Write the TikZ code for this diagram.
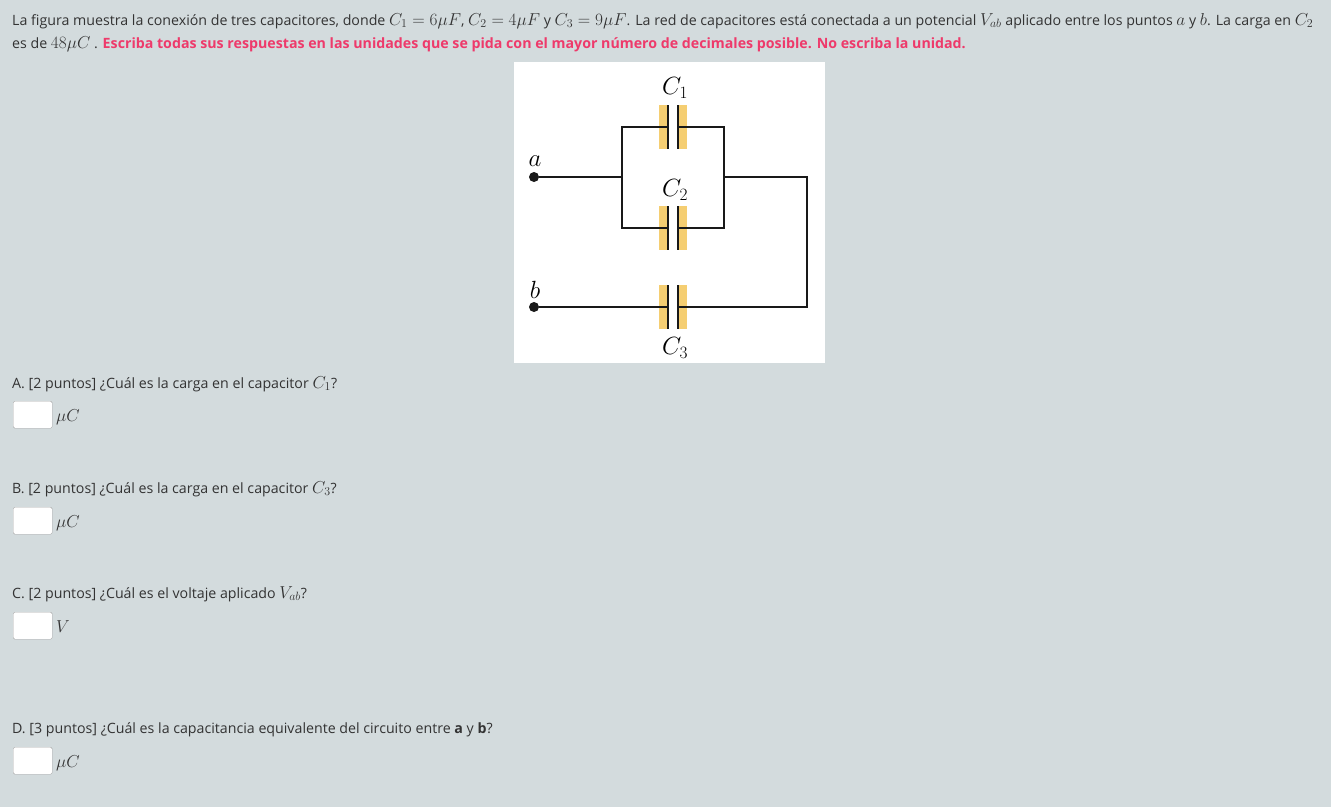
\documentclass[tikz,border=0pt]{standalone}
\usepackage{fontspec}
\setmainfont{Open Sans}
\definecolor{bg}{HTML}{D3DBDD}
\definecolor{redt}{HTML}{EE3A6B}
\definecolor{capy}{HTML}{F5CE72}
\definecolor{txt}{HTML}{333333}
\newcommand{\mth}[1]{{\fontsize{17}{18}\selectfont$#1$}}
\begin{document}
\begin{tikzpicture}[x=1pt,y=-1pt,
  body/.style={anchor=base west,inner sep=0pt,font=\fontsize{14.2}{16}\selectfont,text=txt},
  unit/.style={anchor=base west,inner sep=0pt,font=\fontsize{17}{18}\selectfont,text=txt},
  ansbox/.style={draw=gray!70,fill=white,rounded corners=1.5pt,minimum width=39pt,minimum height=27pt,inner sep=0pt,anchor=north west},
  wire/.style={line width=2.5pt,black!90},
  plate/.style={line width=2.8pt,black!90},
  band/.style={fill=capy,draw=none},
  dot/.style={circle,fill=black!90,inner sep=0pt,minimum size=10pt},
  clab/.style={font=\fontsize{23}{24}\selectfont,inner sep=0pt}]
\fill[bg] (0,0) rectangle (1331,807);
\useasboundingbox (0,0) rectangle (1331,807);
\node[body] (t1) at (12,25) {La figura muestra la conexión de tres capacitores, donde \mth{C_1=6\mu F}, \mth{C_2=4\mu F} y \mth{C_3=9\mu F}. La red de capacitores está conectada a un potencial \mth{V_{ab}} aplicado entre los puntos \mth{a} y \mth{b}. La carga en \mth{C_2}};
\node[body] (t2) at (12,48) {es de \mth{48\mu C} . \textcolor{redt}{\bfseries Escriba todas sus respuestas en las unidades que se pida con el mayor número de decimales posible. No escriba la unidad.}};
% figure
\fill[white] (514,62) rectangle (825,363);
\foreach \yy/\nm in {127/1,228/2,307/3}{
  \fill[band] (659,\yy-22) rectangle (668,\yy+22);
  \fill[band] (678,\yy-22) rectangle (687,\yy+22);
}
\node[dot] (a) at (534,177) {};
\node[dot] (b) at (534,307) {};
\coordinate (L) at (622,177);
\coordinate (R) at (724,177);
\draw[wire] (a) -- (L);
\draw[wire] (R) -- (807,177) -- (807,307) -- (678,307);
\draw[wire] (b) -- (668,307);
\draw[wire] (651,127) -- (622,127) -- (622,228) -- (668,228);
\draw[wire] (695,127) -- (724,127) -- (724,228) -- (678,228);
\draw[wire] (651,127) -- (668,127);
\draw[wire] (678,127) -- (695,127);
\foreach \yy in {127,228,307}{
  \draw[plate] (668,\yy-22) -- (668,\yy+22);
  \draw[plate] (678,\yy-22) -- (678,\yy+22);
}
\node[clab] (c1) at (675,88) {$C_1$};
\node[clab] (c2) at (675,190) {$C_2$};
\node[clab] (c3) at (675,348) {$C_3$};
\node[clab] (la) at (535,161) {$a$};
\node[clab] (lb) at (535,290) {$b$};
% questions
\node[body] (qa) at (12,388) {A. [2 puntos] ¿Cuál es la carga en el capacitor \mth{C_1}?};
\node[ansbox] (ba) at (13,401) {};
\node[unit] (ua) at (56,421) {$\mu C$};
\node[body] (qb) at (12,493) {B. [2 puntos] ¿Cuál es la carga en el capacitor \mth{C_3}?};
\node[ansbox] (bb) at (13,507) {};
\node[unit] (ub) at (56,527) {$\mu C$};
\node[body] (qc) at (12,598) {C. [2 puntos] ¿Cuál es el voltaje aplicado \mth{V_{ab}}?};
\node[ansbox] (bc) at (13,612) {};
\node[unit] (uc) at (56,632) {$V$};
\node[body] (qd) at (12,733) {D. [3 puntos] ¿Cuál es la capacitancia equivalente del circuito entre \textbf{a} y \textbf{b}?};
\node[ansbox] (bd) at (13,747) {};
\node[unit] (ud) at (56,767) {$\mu C$};
\end{tikzpicture}
\end{document}
